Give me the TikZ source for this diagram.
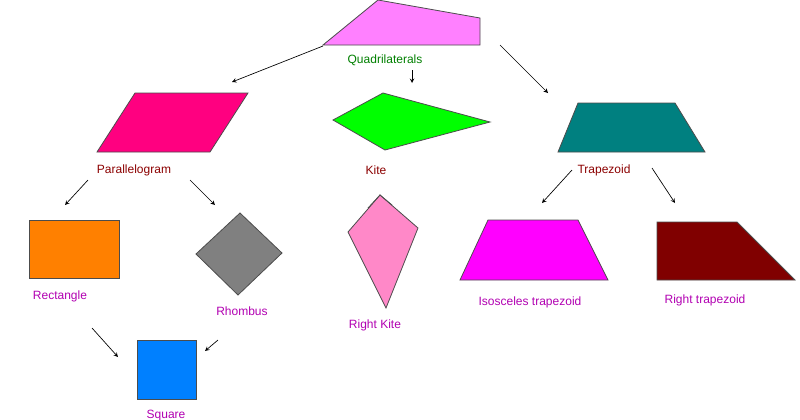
\documentclass[tikz,border=0pt]{standalone}
\usepackage{fontspec}
\setmainfont{Liberation Sans}
\begin{document}
\begin{tikzpicture}[x=0.75pt,y=-0.75pt,
  shp/.style={draw=black!70,line width=0.6pt},
  arr/.style={-stealth,line width=0.5pt},
  lbl/.style={font=\fontsize{9}{10}\selectfont,inner sep=1pt},
  grn/.style={lbl,text=green!50!black},
  red/.style={lbl,text=red!55!black},
  pur/.style={lbl,text=violet!60!magenta}]
\useasboundingbox (0,0) rectangle (800,419);
\fill[white] (0,0) rectangle (800,419);
% shapes
\draw[shp,fill={rgb,255:red,255;green,128;blue,255}] (323,45)--(378,0)--(480,18)--(480,45)--cycle;
\draw[shp,fill={rgb,255:red,255;green,0;blue,128}] (97,152)--(135,93)--(248,93)--(210,152)--cycle;
\draw[shp,fill={rgb,255:red,0;green,255;blue,0}] (333,120)--(383,93)--(490,122)--(385,150)--cycle;
\draw[shp,fill={rgb,255:red,0;green,128;blue,128}] (558,152)--(578,103)--(675,103)--(705,152)--cycle;
\draw[shp,fill={rgb,255:red,255;green,128;blue,0}] (29,220) rectangle (119,278);
\draw[shp,fill={rgb,255:red,128;green,128;blue,128}] (240,213)--(282,253)--(238,295)--(196,254)--cycle;
\draw[shp,fill={rgb,255:red,255;green,136;blue,200}] (380,195)--(418,228)--(386,308)--(348,232)--cycle;
\draw[shp] (368,208)--(380,195)--(392,205);
\draw[shp,fill={rgb,255:red,255;green,0;blue,255}] (460,280)--(488,220)--(578,220)--(608,280)--cycle;
\draw[shp,fill={rgb,255:red,128;green,0;blue,0}] (657,280)--(657,222)--(737,222)--(795,280)--cycle;
\draw[shp,fill={rgb,255:red,0;green,128;blue,255}] (137,340) rectangle (196,399);
% labels
\node[grn] (quad) at (385,60) {Quadrilaterals};
\node[red] (para) at (134,170) {Parallelogram};
\node[red] (kite) at (376,170) {Kite};
\node[red] (trap) at (604,170) {Trapezoid};
\node[pur] (rect) at (60,296) {Rectangle};
\node[pur] (rhom) at (242,311) {Rhombus};
\node[pur] (rkite) at (375,325) {Right Kite};
\node[pur] (iso) at (530,302) {Isosceles trapezoid};
\node[pur] (rtrap) at (705,300) {Right trapezoid};
\node[pur] (sq) at (166,416) {Square};
% arrow coordinates
\coordinate (a1) at (323,46); \coordinate (b1) at (232,82);
\coordinate (a2) at (412,70); \coordinate (b2) at (412,83);
\coordinate (a3) at (500,45); \coordinate (b3) at (548,93);
\coordinate (a4) at (88,180); \coordinate (b4) at (65,205);
\coordinate (a5) at (190,180); \coordinate (b5) at (215,205);
\coordinate (a6) at (572,170); \coordinate (b6) at (542,203);
\coordinate (a7) at (652,168); \coordinate (b7) at (675,203);
\coordinate (a8) at (92,328); \coordinate (b8) at (118,357);
\coordinate (a9) at (218,340); \coordinate (b9) at (205,351);
\foreach \i in {1,...,9} \draw[arr] (a\i)--(b\i);
\end{tikzpicture}
\end{document}
